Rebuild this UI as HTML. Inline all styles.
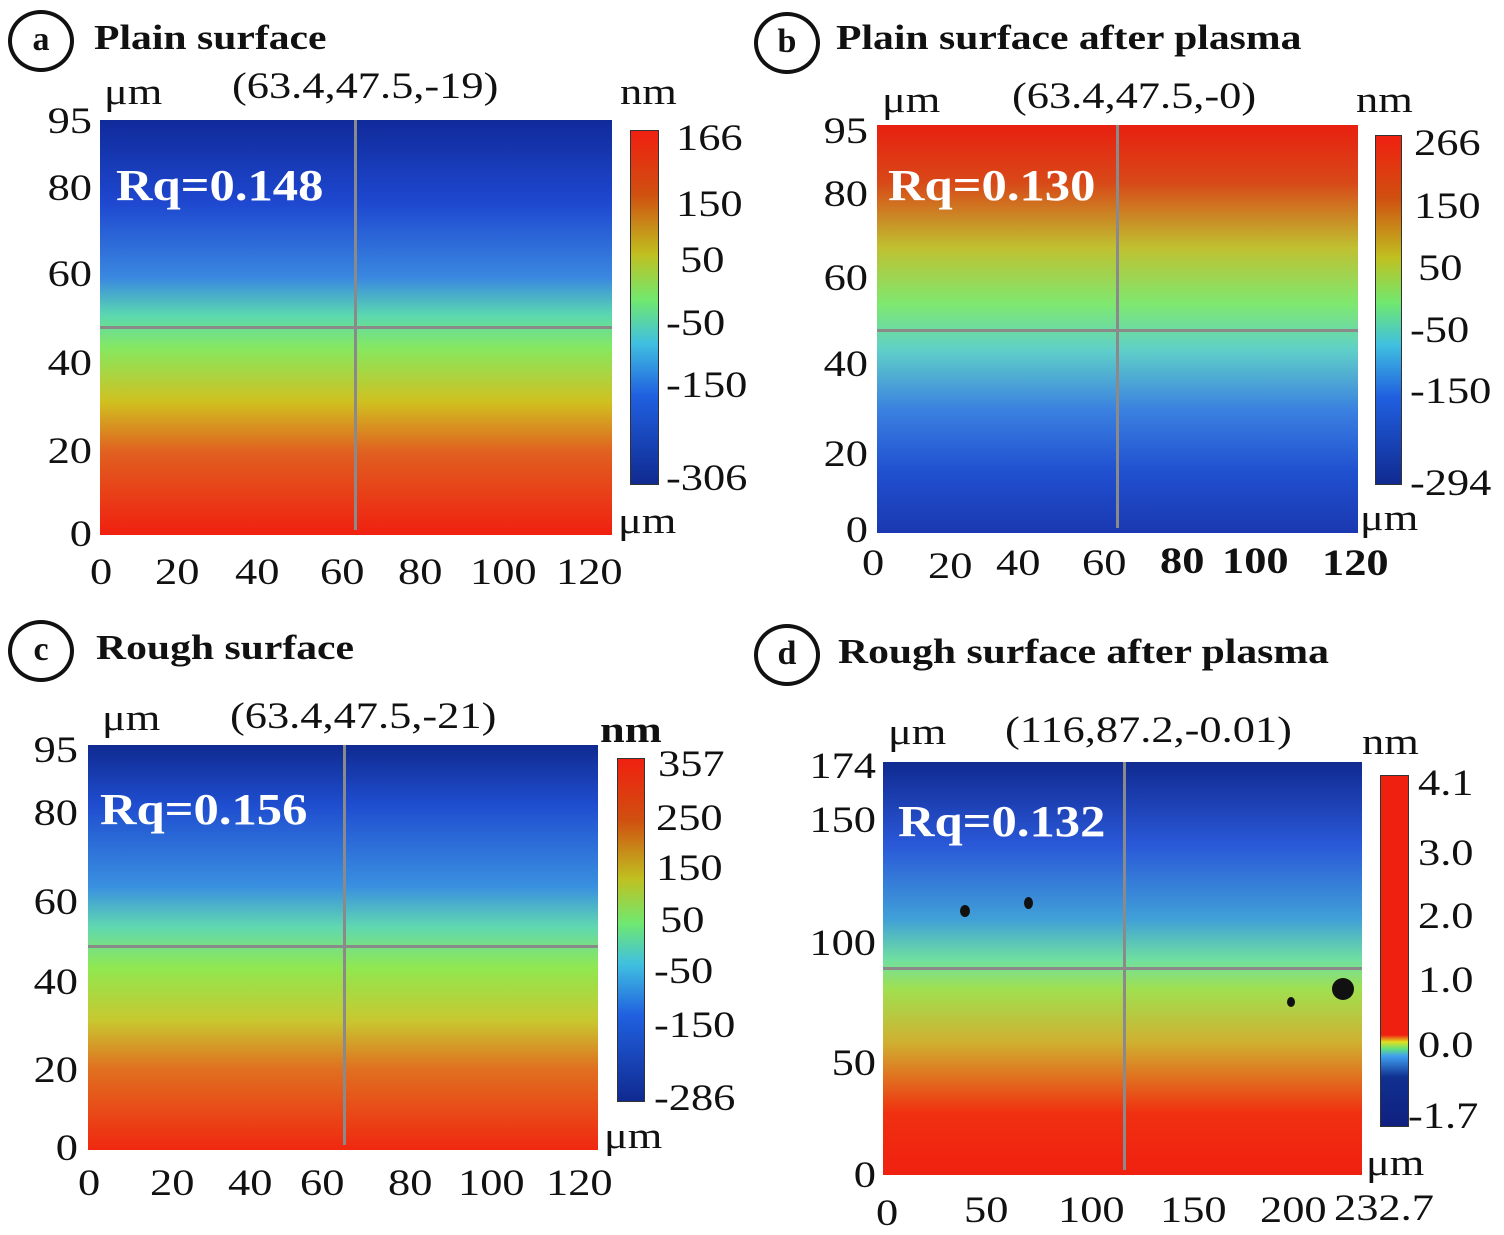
<!DOCTYPE html>
<html><head><meta charset="utf-8"><style>
body{margin:0;width:1504px;height:1235px;background:#fff;position:relative;overflow:hidden;font-family:"Liberation Serif",serif;color:#111}
.t{position:absolute;font-size:37px;line-height:1;white-space:nowrap;transform:scaleX(1.2);transform-origin:left top}
.h{position:absolute;font-size:35px;font-weight:bold;line-height:1;white-space:nowrap;transform:scaleX(1.19);transform-origin:left top}
.c{position:absolute;width:58px;height:54px;border:4px solid #111;border-radius:50%;font-size:34px;font-weight:bold;text-align:center;line-height:52px}
.img{position:absolute}
.v{position:absolute;width:3px;background:#8a8a8a}
.hz{position:absolute;height:3px;background:#8a8a8a}
.rq{position:absolute;color:#fff;font-size:44px;font-weight:bold;line-height:1;transform:scaleX(1.15);transform-origin:left top}
.cb{position:absolute;border:1px solid #333}
.r{text-align:right;transform-origin:right top}
.dot{position:absolute;border-radius:50%}
</style></head><body>
<!-- a -->
<div class="c" style="left:8px;top:10px">a</div>
<div class="h" style="left:94px;top:20px">Plain surface</div>
<div class="t" style="left:104px;top:74px">μm</div>
<div class="t" style="left:232px;top:68px">(63.4,47.5,-19)</div>
<div class="t" style="left:620px;top:74px">nm</div>
<div class="img" style="left:100px;top:120px;width:512px;height:415px;background:linear-gradient(#102a9a 0%,#1e48d0 20%,#3a88e0 38%,#5ad8b0 47%,#86e860 55%,#d0c020 68%,#e06020 80%,#f02010 100%)"></div>
<div class="v" style="left:354px;top:120px;height:410px"></div>
<div class="hz" style="left:100px;top:326px;width:512px"></div>
<div class="rq" style="left:116px;top:164px">Rq=0.148</div>
<div class="cb" style="left:630px;top:130px;width:27px;height:353px;background:linear-gradient(#f02010,#d05010 18%,#c0c020 35%,#70e870 48%,#40c0e0 60%,#2060e0 75%,#102a90 100%)"></div>
<div class="t" style="left:676px;top:120px">166</div>
<div class="t" style="left:676px;top:186px">150</div>
<div class="t" style="left:680px;top:242px">50</div>
<div class="t" style="left:666px;top:305px">-50</div>
<div class="t" style="left:666px;top:367px">-150</div>
<div class="t" style="left:666px;top:460px">-306</div>
<div class="t" style="left:618px;top:503px">μm</div>
<div class="t r" style="left:30px;top:103px;width:62px">95</div>
<div class="t r" style="left:30px;top:170px;width:62px">80</div>
<div class="t r" style="left:30px;top:256px;width:62px">60</div>
<div class="t r" style="left:30px;top:345px;width:62px">40</div>
<div class="t r" style="left:30px;top:433px;width:62px">20</div>
<div class="t r" style="left:30px;top:516px;width:62px">0</div>
<div class="t" style="left:90px;top:554px">0</div>
<div class="t" style="left:155px;top:554px">20</div>
<div class="t" style="left:235px;top:554px">40</div>
<div class="t" style="left:320px;top:554px">60</div>
<div class="t" style="left:398px;top:554px">80</div>
<div class="t" style="left:470px;top:554px">100</div>
<div class="t" style="left:556px;top:554px">120</div>
<!-- b -->
<div class="c" style="left:754px;top:12px">b</div>
<div class="h" style="left:836px;top:20px">Plain surface after plasma</div>
<div class="t" style="left:882px;top:82px">μm</div>
<div class="t" style="left:1012px;top:78px">(63.4,47.5,-0)</div>
<div class="t" style="left:1356px;top:82px">nm</div>
<div class="img" style="left:877px;top:125px;width:481px;height:408px;background:linear-gradient(#e82010 0%,#d84818 14%,#c0c030 30%,#7ee870 44%,#60d0c8 55%,#3a80e0 70%,#2050d0 85%,#1a38b0 100%)"></div>
<div class="v" style="left:1116px;top:125px;height:403px"></div>
<div class="hz" style="left:877px;top:329px;width:481px"></div>
<div class="rq" style="left:888px;top:164px">Rq=0.130</div>
<div class="cb" style="left:1375px;top:135px;width:25px;height:348px;background:linear-gradient(#f02010,#d05010 18%,#c0c020 35%,#70e870 48%,#40c0e0 60%,#2060e0 75%,#102a90 100%)"></div>
<div class="t" style="left:1414px;top:125px">266</div>
<div class="t" style="left:1414px;top:188px">150</div>
<div class="t" style="left:1418px;top:250px">50</div>
<div class="t" style="left:1410px;top:312px">-50</div>
<div class="t" style="left:1410px;top:373px">-150</div>
<div class="t" style="left:1410px;top:465px">-294</div>
<div class="t" style="left:1360px;top:500px">μm</div>
<div class="t r" style="left:806px;top:113px;width:62px">95</div>
<div class="t r" style="left:806px;top:176px;width:62px">80</div>
<div class="t r" style="left:806px;top:260px;width:62px">60</div>
<div class="t r" style="left:806px;top:346px;width:62px">40</div>
<div class="t r" style="left:806px;top:436px;width:62px">20</div>
<div class="t r" style="left:806px;top:512px;width:62px">0</div>
<div class="t" style="left:862px;top:545px">0</div>
<div class="t" style="left:928px;top:548px">20</div>
<div class="t" style="left:996px;top:545px">40</div>
<div class="t" style="left:1082px;top:545px">60</div>
<div class="t" style="left:1160px;top:543px;font-weight:bold">80</div>
<div class="t" style="left:1222px;top:543px;font-weight:bold">100</div>
<div class="t" style="left:1322px;top:545px;font-weight:bold">120</div>
<!-- c -->
<div class="c" style="left:8px;top:620px">c</div>
<div class="h" style="left:96px;top:630px">Rough surface</div>
<div class="t" style="left:102px;top:700px">μm</div>
<div class="t" style="left:230px;top:698px">(63.4,47.5,-21)</div>
<div class="t" style="left:600px;top:712px;font-weight:bold">nm</div>
<div class="img" style="left:88px;top:745px;width:510px;height:405px;background:linear-gradient(#102a90 0%,#1f4ed0 15%,#3a90e0 35%,#60d8b0 45%,#90e850 55%,#c8c830 68%,#e07020 80%,#f02810 100%)"></div>
<div class="v" style="left:343px;top:745px;height:400px"></div>
<div class="hz" style="left:88px;top:945px;width:510px"></div>
<div class="rq" style="left:100px;top:788px">Rq=0.156</div>
<div class="cb" style="left:617px;top:758px;width:26px;height:342px;background:linear-gradient(#f02010,#d05010 18%,#c0c020 35%,#70e870 48%,#40c0e0 60%,#2060e0 75%,#102a90 100%)"></div>
<div class="t" style="left:658px;top:746px">357</div>
<div class="t" style="left:656px;top:800px">250</div>
<div class="t" style="left:656px;top:850px">150</div>
<div class="t" style="left:660px;top:902px">50</div>
<div class="t" style="left:654px;top:953px">-50</div>
<div class="t" style="left:654px;top:1007px">-150</div>
<div class="t" style="left:654px;top:1080px">-286</div>
<div class="t" style="left:604px;top:1118px">μm</div>
<div class="t r" style="left:16px;top:732px;width:62px">95</div>
<div class="t r" style="left:16px;top:795px;width:62px">80</div>
<div class="t r" style="left:16px;top:884px;width:62px">60</div>
<div class="t r" style="left:16px;top:964px;width:62px">40</div>
<div class="t r" style="left:16px;top:1052px;width:62px">20</div>
<div class="t r" style="left:16px;top:1130px;width:62px">0</div>
<div class="t" style="left:78px;top:1165px">0</div>
<div class="t" style="left:150px;top:1165px">20</div>
<div class="t" style="left:228px;top:1165px">40</div>
<div class="t" style="left:300px;top:1165px">60</div>
<div class="t" style="left:388px;top:1165px">80</div>
<div class="t" style="left:458px;top:1165px">100</div>
<div class="t" style="left:546px;top:1165px">120</div>
<!-- d -->
<div class="c" style="left:754px;top:624px">d</div>
<div class="h" style="left:838px;top:634px">Rough surface after plasma</div>
<div class="t" style="left:888px;top:714px">μm</div>
<div class="t" style="left:1005px;top:712px">(116,87.2,-0.01)</div>
<div class="t" style="left:1362px;top:724px">nm</div>
<div class="img" style="left:883px;top:762px;width:479px;height:413px;background:linear-gradient(#102a90 0%,#2a58d8 20%,#40a0d8 38%,#70e0a0 48%,#a0e050 55%,#d0b030 68%,#f03010 85%,#f02010 100%)"></div>
<div class="dot" style="left:960px;top:905px;width:10px;height:12px;background:#111"></div>
<div class="dot" style="left:1024px;top:897px;width:9px;height:12px;background:#111"></div>
<div class="dot" style="left:1332px;top:978px;width:22px;height:22px;background:#111"></div>
<div class="dot" style="left:1287px;top:997px;width:8px;height:10px;background:#111"></div>
<div class="v" style="left:1123px;top:762px;height:408px"></div>
<div class="hz" style="left:883px;top:967px;width:479px"></div>
<div class="rq" style="left:898px;top:800px">Rq=0.132</div>
<div class="cb" style="left:1380px;top:775px;width:27px;height:350px;background:linear-gradient(#f02010 0%,#f02010 74%,#e0e020 76%,#60e080 78%,#40a0f0 80%,#103090 86%,#102080 100%)"></div>
<div class="t" style="left:1418px;top:765px">4.1</div>
<div class="t" style="left:1418px;top:835px">3.0</div>
<div class="t" style="left:1418px;top:898px">2.0</div>
<div class="t" style="left:1418px;top:962px">1.0</div>
<div class="t" style="left:1418px;top:1027px">0.0</div>
<div class="t" style="left:1408px;top:1098px">-1.7</div>
<div class="t" style="left:1366px;top:1145px">μm</div>
<div class="t r" style="left:800px;top:748px;width:76px">174</div>
<div class="t r" style="left:800px;top:802px;width:76px">150</div>
<div class="t r" style="left:800px;top:925px;width:76px">100</div>
<div class="t r" style="left:800px;top:1045px;width:76px">50</div>
<div class="t r" style="left:800px;top:1157px;width:76px">0</div>
<div class="t" style="left:876px;top:1195px">0</div>
<div class="t" style="left:964px;top:1192px">50</div>
<div class="t" style="left:1058px;top:1192px">100</div>
<div class="t" style="left:1160px;top:1192px">150</div>
<div class="t" style="left:1260px;top:1192px">200</div>
<div class="t" style="left:1334px;top:1190px">232.7</div>
</body></html>
